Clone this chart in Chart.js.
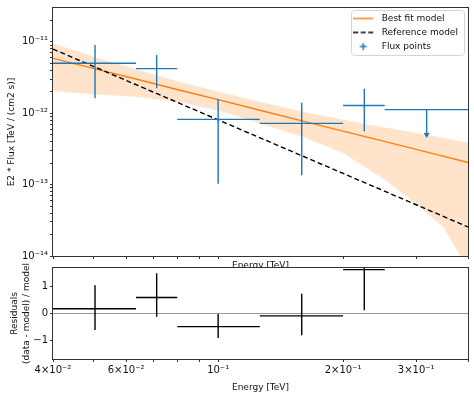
<!DOCTYPE html>
<html>
<head>
<meta charset="utf-8">
<script src="https://cdn.jsdelivr.net/npm/chart.js@4"></script>
<style>
  html, body { margin: 0; padding: 0; background: #fff; }
  #wrap { position: relative; width: 474px; height: 398px; }
  #top { position: absolute; left: 0; top: 0; }
  #res { position: absolute; left: 0; top: 260px; }
</style>
</head>
<body>
<div id="wrap">
  <canvas id="top" width="474" height="271"></canvas>
  <canvas id="res" width="474" height="138"></canvas>
</div>
<script>
// ---- flux points (energy in TeV, E2 * flux in TeV / (cm2 s)) ----
const fluxE   = [0.0505, 0.0711, 0.1, 0.159, 0.225];
const fluxElo = [0.04, 0.0634, 0.0797, 0.126, 0.2];
const fluxEhi = [0.0634, 0.0797, 0.126, 0.2, 0.252];
const flux    = [5.0e-12, 4.2e-12, 8.2e-13, 7.2e-13, 1.28e-12];
const fluxHi  = [9.0e-12, 6.5e-12, 1.58e-12, 1.4e-12, 2.2e-12];
const fluxLo  = [1.62e-12, 2.24e-12, 1.03e-13, 1.35e-13, 5.6e-13];

// upper limit in the last bin
const ulE    = [0.318];
const ulElo  = [0.252];
const ulEhi  = [0.4];
const ulFlux = [1.12e-12];
const ulTip  = [5.0e-13];

// best fit model and its error band
const modelE    = [0.04, 0.05, 0.063, 0.08, 0.1, 0.126, 0.16, 0.2, 0.25, 0.3, 0.35, 0.385, 0.4];
const modelFlux = [5.86e-12, 4.23e-12, 3.03e-12, 2.13e-12, 1.55e-12, 1.10e-12, 7.74e-13, 5.61e-13, 4.06e-13, 3.11e-13, 2.48e-13, 2.16e-13, 2.04e-13];
const bandHi    = [9.47e-12, 6.21e-12, 4.16e-12, 2.80e-12, 2.00e-12, 1.44e-12, 1.05e-12, 8.09e-13, 6.35e-13, 5.27e-13, 4.48e-13, 4.02e-13, 3.87e-13];
const bandLo    = [2.04e-12, 1.84e-12, 1.70e-12, 1.45e-12, 1.09e-12, 7.24e-13, 4.64e-13, 2.77e-13, 1.21e-13, 5.36e-14, 2.48e-14, 9.5e-15, 5e-15];

// reference model
const refE    = [0.04, 0.4];
const refFlux = [7.9e-12, 2.55e-14];

// residuals (data - model) / model
const res   = [0.18, 0.6, -0.49, -0.09, 1.64];
const resHi = [1.06, 1.5, -0.02, 0.74, 3.6];
const resLo = [-0.62, -0.12, -0.92, -0.81, 0.12];

// ticks
const xTickValues = [0.04, 0.05, 0.06, 0.07, 0.08, 0.09, 0.1, 0.2, 0.3, 0.4];
const xTickLabels = ['4×10⁻²', '', '6×10⁻²', '', '', '', '10⁻¹', '2×10⁻¹', '3×10⁻¹', ''];
const yDecades    = [1e-14, 1e-13, 1e-12, 1e-11];
const yDecadeLabels = ['10⁻¹⁴', '10⁻¹³', '10⁻¹²', '10⁻¹¹'];
const resTickValues = [-1, 0, 1];
const resTickLabels = ['−1', '0', '1'];

const BLUE = '#1f77b4';
const ORANGE = '#ff7f0e';
const BAND = 'rgba(255,127,14,0.22)';
const AXIS = '#333';
const TXT = '#111';

Chart.defaults.font.family = 'DejaVu Sans';
Chart.defaults.font.size = 9;
Chart.defaults.color = TXT;
Chart.defaults.animation = false;

// --- helpers to turn value arrays into error-bar segments (null = gap) ---
function hBars(lo, hi, y) {
  const out = [];
  y.forEach((v, i) => out.push({x: lo[i], y: v}, {x: hi[i], y: v}, {x: hi[i], y: null}));
  return out;
}
function vBars(x, lo, hi) {
  const out = [];
  x.forEach((v, i) => out.push({x: v, y: lo[i]}, {x: v, y: hi[i]}, {x: v, y: null}));
  return out;
}
function pairs(xs, ys) {
  return xs.map((v, i) => ({x: v, y: ys[i]}));
}

// y ticks of the flux panel: decades + 2..9 minors
const yTickValues = [];
const yTickLabels = [];
yDecades.forEach((d, i) => {
  for (let m = 1; m <= 9; m++) {
    const v = d * m;
    if (v > 2.97e-11) break;
    yTickValues.push(v);
    yTickLabels.push(m === 1 ? yDecadeLabels[i] : '');
  }
});

const segment = {type: 'line', pointRadius: 0, fill: false, spanGaps: false, borderWidth: 1.4};
const gridOpts = {display: true, drawOnChartArea: false, drawTicks: true, tickLength: 3, tickColor: AXIS, tickWidth: 1};
const tickFont = {size: 10};

// legend handles
function handle(kind, color) {
  const c = document.createElement('canvas');
  c.width = 24; c.height = 10;
  const g = c.getContext('2d');
  g.strokeStyle = color;
  g.lineWidth = 1.5;
  g.beginPath();
  if (kind === 'cross') {
    g.moveTo(10, 1.5); g.lineTo(10, 8.5);
    g.moveTo(6.5, 5); g.lineTo(13.5, 5);
  } else {
    if (kind === 'dash') g.setLineDash([5, 2.5]);
    g.moveTo(0, 5); g.lineTo(20, 5);
  }
  g.stroke();
  return c;
}
const legendItems = [
  {text: 'Best fit model',  pointStyle: handle('line', ORANGE), strokeStyle: ORANGE, fillStyle: ORANGE, fontColor: TXT, lineWidth: 0, hidden: false},
  {text: 'Reference model', pointStyle: handle('dash', '#000'), strokeStyle: '#000', fillStyle: '#000', fontColor: TXT, lineWidth: 0, hidden: false},
  {text: 'Flux points',     pointStyle: handle('cross', BLUE), strokeStyle: BLUE, fillStyle: BLUE, fontColor: TXT, lineWidth: 0, hidden: false}
];

const framePlugin = {
  id: 'frame',
  afterDraw(chart) {
    const {ctx, chartArea: a} = chart;
    ctx.save();
    ctx.strokeStyle = AXIS;
    ctx.lineWidth = 1;
    ctx.strokeRect(a.left - 0.5, a.top - 0.5, a.right - a.left + 1, a.bottom - a.top + 1);
    ctx.restore();
  }
};

const legendPlugin = {
  id: 'legendPlace',
  afterLayout(chart) {
    const lg = chart.legend;
    lg.left = 348.2; lg.top = 9;
    lg.right = lg.left + lg.width;
    lg.bottom = lg.top + 200;
  },
  beforeDraw(chart) {
    const ctx = chart.ctx;
    ctx.save();
    ctx.fillStyle = 'rgba(255,255,255,0.8)';
    ctx.strokeStyle = '#d4d4d4';
    ctx.lineWidth = 1;
    ctx.beginPath();
    ctx.roundRect(351.5, 10.5, 113, 45, 3);
    ctx.fill();
    ctx.stroke();
    ctx.restore();
  }
};

// ================= FLUX PANEL =================
new Chart(document.getElementById('top'), {
  type: 'line',
  data: {
    datasets: [
      {...segment, label: 'Flux points', data: hBars(fluxElo, fluxEhi, flux), borderColor: BLUE},
      {...segment, data: vBars(fluxE, fluxLo, fluxHi), borderColor: BLUE},
      {...segment, data: hBars(ulElo, ulEhi, ulFlux), borderColor: BLUE},
      {...segment, data: vBars(ulE, ulTip, ulFlux), borderColor: BLUE},
      {...segment, data: pairs(ulE, ulTip), showLine: false, pointRadius: 2.6, pointStyle: 'triangle',
        rotation: 180, backgroundColor: BLUE, borderColor: BLUE, borderWidth: 1},
      {...segment, label: 'Reference model', data: pairs(refE, refFlux), borderColor: '#000', borderDash: [5, 3]},
      {...segment, label: 'Best fit model', data: pairs(modelE, modelFlux), borderColor: ORANGE},
      {...segment, data: pairs(modelE, bandHi), borderWidth: 0, borderColor: 'rgba(0,0,0,0)',
        backgroundColor: BAND, fill: {target: '+1'}},
      {...segment, data: pairs(modelE, bandLo), borderWidth: 0, borderColor: 'rgba(0,0,0,0)'}
    ]
  },
  options: {
    responsive: false,
    layout: {padding: {left: 0, top: 6, right: 6, bottom: 0}},
    scales: {
      x: {
        type: 'logarithmic', min: 0.04, max: 0.4,
        afterBuildTicks: s => { s.ticks = xTickValues.map(v => ({value: v})); },
        afterFit: s => { s.height = 15; },
        ticks: {display: false, autoSkip: false},
        grid: gridOpts,
        border: {display: false},
        title: {display: true, text: 'Energy [TeV]', padding: 0, color: TXT}
      },
      y: {
        type: 'logarithmic', min: 1e-14, max: 2.97e-11,
        afterBuildTicks: s => { s.ticks = yTickValues.map(v => ({value: v})); },
        afterFit: s => { s.width = 53; },
        ticks: {autoSkip: false, padding: 2, color: TXT, font: tickFont, callback: (v, i) => yTickLabels[i]},
        grid: gridOpts,
        border: {display: false},
        title: {display: true, text: 'E2 * Flux [TeV / (cm2 s)]', padding: {top: 6, bottom: 0}, color: TXT}
      }
    },
    plugins: {
      tooltip: {enabled: false},
      legend: {
        position: 'chartArea', align: 'start',
        labels: {usePointStyle: true, pointStyleWidth: 24, boxHeight: 9, padding: 5, color: TXT,
          font: {size: 9}, generateLabels: () => legendItems}
      }
    }
  },
  plugins: [legendPlugin, framePlugin]
});

// ================= RESIDUAL PANEL =================
const whiteArea = {
  id: 'whiteArea',
  beforeDraw(chart) {
    const {ctx, chartArea: a} = chart;
    ctx.save();
    ctx.fillStyle = '#fff';
    ctx.fillRect(a.left - 1, a.top - 1, a.right - a.left + 2, a.bottom - a.top + 2);
    ctx.restore();
  }
};

new Chart(document.getElementById('res'), {
  type: 'line',
  data: {
    datasets: [
      {...segment, data: hBars(fluxElo, fluxEhi, res), borderColor: '#000'},
      {...segment, data: vBars(fluxE, resLo, resHi), borderColor: '#000'},
      {...segment, data: pairs([0.04, 0.4], [0, 0]), borderColor: '#999', borderWidth: 1}
    ]
  },
  options: {
    responsive: false,
    layout: {padding: {left: 0, top: 4, right: 6, bottom: 5}},
    scales: {
      x: {
        type: 'logarithmic', min: 0.04, max: 0.4,
        afterBuildTicks: s => { s.ticks = xTickValues.map(v => ({value: v})); },
        afterFit: s => { s.height = 34; },
        ticks: {autoSkip: false, maxRotation: 0, padding: 2, color: TXT, font: tickFont, callback: (v, i) => xTickLabels[i]},
        grid: gridOpts,
        border: {display: false},
        title: {display: true, text: 'Energy [TeV]', padding: 0, color: TXT}
      },
      y: {
        type: 'linear', min: -1.7, max: 1.7,
        afterBuildTicks: s => { s.ticks = resTickValues.map(v => ({value: v})); },
        afterFit: s => { s.width = 53; },
        ticks: {padding: 2, color: TXT, font: tickFont, callback: (v, i) => resTickLabels[i]},
        grid: gridOpts,
        border: {display: false},
        title: {display: true, text: ['Residuals', '(data - model) / model'], padding: {top: 9, bottom: 0},
          font: {size: 9, lineHeight: 1.3}, color: TXT}
      }
    },
    plugins: {tooltip: {enabled: false}, legend: {display: false}}
  },
  plugins: [whiteArea, framePlugin]
});
</script>
</body>
</html>
